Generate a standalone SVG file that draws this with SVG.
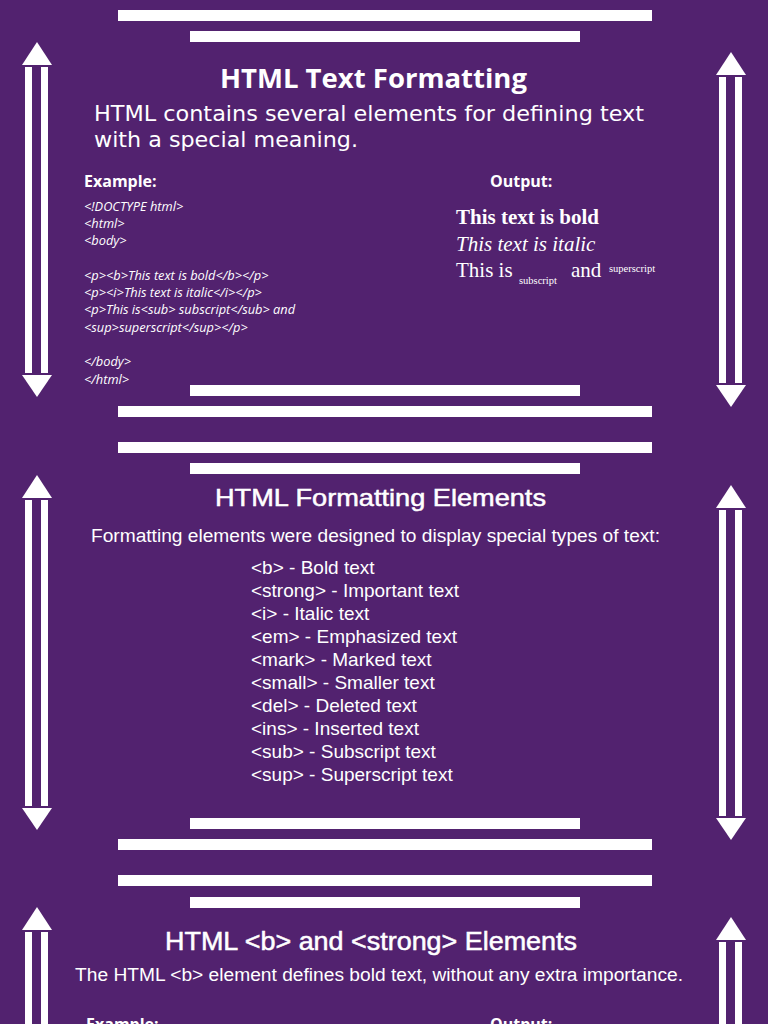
<svg xmlns="http://www.w3.org/2000/svg" width="768" height="1024" viewBox="0 0 768 1024">
<style>
.bar{fill:#fff}
.w{fill:#fff}
.os{font-family:"Open Sans","Liberation Sans",sans-serif}
.dv{font-family:"DejaVu Sans",sans-serif}
.ls{font-family:"Liberation Sans",Arial,sans-serif}
.sf{font-family:"Liberation Serif","Times New Roman",serif}
.code{font-family:"Open Sans",sans-serif;font-style:italic;font-size:12.8px;fill:#fff}
.li{font-family:"Liberation Sans",Arial,sans-serif;font-size:19px;fill:#fff}
</style>
<defs>
<g id="arr">
<polygon points="0,0 15,23 -15,23" class="w"/>
<rect x="-12" y="25" width="7" height="306" class="w"/>
<rect x="4" y="25" width="7" height="306" class="w"/>
<polygon points="-15,333 15,333 0,355" class="w"/>
</g>
</defs>
<rect width="768" height="1024" fill="#52226f"/>
<g id="bars">
<rect class="bar" x="118" y="10" width="534" height="11"/>
<rect class="bar" x="190" y="31" width="390" height="11"/>
<rect class="bar" x="190" y="385" width="390" height="11"/>
<rect class="bar" x="118" y="406" width="534" height="11"/>
<rect class="bar" x="118" y="442" width="534" height="11"/>
<rect class="bar" x="190" y="463" width="390" height="11"/>
<rect class="bar" x="190" y="818" width="390" height="11"/>
<rect class="bar" x="118" y="839" width="534" height="11"/>
<rect class="bar" x="118" y="875" width="534" height="11"/>
<rect class="bar" x="190" y="897" width="390" height="11"/>
</g>
<g id="arrows">
<use href="#arr" x="37" y="42"/>
<use href="#arr" x="731" y="52"/>
<use href="#arr" x="37" y="475"/>
<use href="#arr" x="731" y="485"/>
<use href="#arr" x="37" y="907"/>
<use href="#arr" x="731" y="917"/>
</g>
<g id="section1">
<text x="220" y="88" textLength="307" lengthAdjust="spacingAndGlyphs" class="os w" font-size="27" font-weight="bold">HTML Text Formatting</text>
<text x="94" y="121" textLength="550" lengthAdjust="spacingAndGlyphs" class="dv w" font-size="21">HTML contains several elements for defining text</text>
<text x="94" y="147" textLength="264" lengthAdjust="spacingAndGlyphs" class="dv w" font-size="21">with a special meaning.</text>
<text x="84" y="187" class="os w" font-size="16" font-weight="bold">Example:</text>
<text x="490" y="187" class="os w" font-size="16" font-weight="bold">Output:</text>
<text class="code" x="84" y="211">&lt;!DOCTYPE html&gt;</text>
<text class="code" x="84" y="228">&lt;html&gt;</text>
<text class="code" x="84" y="245">&lt;body&gt;</text>
<text class="code" x="84" y="280">&lt;p&gt;&lt;b&gt;This text is bold&lt;/b&gt;&lt;/p&gt;</text>
<text class="code" x="84" y="297">&lt;p&gt;&lt;i&gt;This text is italic&lt;/i&gt;&lt;/p&gt;</text>
<text class="code" x="84" y="314">&lt;p&gt;This is&lt;sub&gt; subscript&lt;/sub&gt; and</text>
<text class="code" x="84" y="332">&lt;sup&gt;superscript&lt;/sup&gt;&lt;/p&gt;</text>
<text class="code" x="84" y="366">&lt;/body&gt;</text>
<text class="code" x="84" y="384">&lt;/html&gt;</text>
<text x="456" y="224" class="sf w" font-size="21" font-weight="bold">This text is bold</text>
<text x="456" y="251" class="sf w" font-size="21" font-style="italic">This text is italic</text>
<text x="456" y="277" class="sf w" font-size="21">This is</text>
<text x="519" y="284" class="sf w" font-size="10.5">subscript</text>
<text x="571" y="277" class="sf w" font-size="21">and</text>
<text x="609" y="272" class="sf w" font-size="10.5">superscript</text>
</g>
<g id="section2">
<text x="215" y="506" textLength="331" lengthAdjust="spacingAndGlyphs" class="ls w" font-size="24" font-weight="500" stroke="#fff" stroke-width="0.5">HTML Formatting Elements</text>
<text x="91" y="542" textLength="569" lengthAdjust="spacingAndGlyphs" class="ls w" font-size="18">Formatting elements were designed to display special types of text:</text>
<text class="li" x="251" y="574">&lt;b&gt; - Bold text</text>
<text class="li" x="251" y="597">&lt;strong&gt; - Important text</text>
<text class="li" x="251" y="620">&lt;i&gt; - Italic text</text>
<text class="li" x="251" y="643">&lt;em&gt; - Emphasized text</text>
<text class="li" x="251" y="666">&lt;mark&gt; - Marked text</text>
<text class="li" x="251" y="689">&lt;small&gt; - Smaller text</text>
<text class="li" x="251" y="712">&lt;del&gt; - Deleted text</text>
<text class="li" x="251" y="735">&lt;ins&gt; - Inserted text</text>
<text class="li" x="251" y="758">&lt;sub&gt; - Subscript text</text>
<text class="li" x="251" y="781">&lt;sup&gt; - Superscript text</text>
</g>
<g id="section3">
<text x="165" y="950" textLength="412" lengthAdjust="spacingAndGlyphs" class="ls w" font-size="25" stroke="#fff" stroke-width="0.5">HTML &lt;b&gt; and &lt;strong&gt; Elements</text>
<text x="75" y="981" textLength="608" lengthAdjust="spacingAndGlyphs" class="ls w" font-size="18">The HTML &lt;b&gt; element defines bold text, without any extra importance.</text>
<text x="86" y="1030" class="os w" font-size="16" font-weight="bold">Example:</text>
<text x="490" y="1030" class="os w" font-size="16" font-weight="bold">Output:</text>
</g>
</svg>
